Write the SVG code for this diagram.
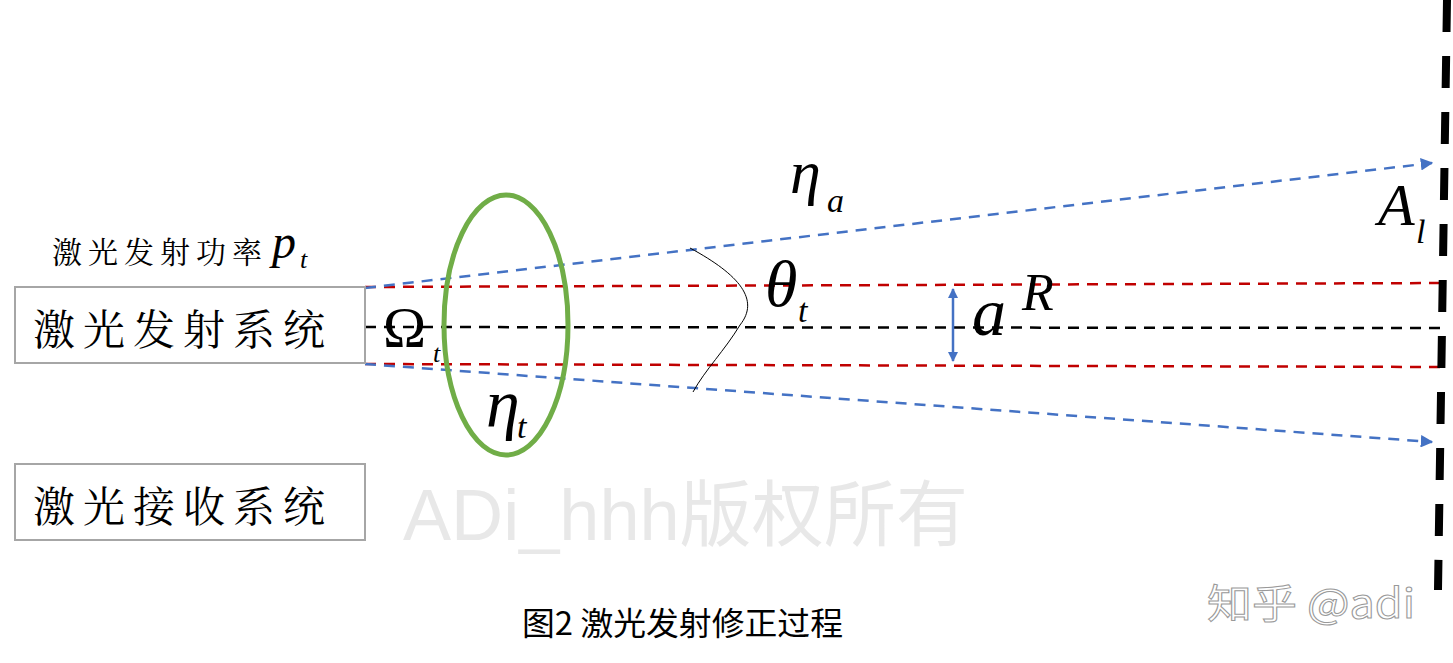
<svg xmlns="http://www.w3.org/2000/svg" width="1453" height="663" viewBox="0 0 1453 663">
<style>
.box{fill:#fff;stroke:#a6a6a6;stroke-width:2}
.cn{font-family:"Noto Serif CJK SC","Noto Sans CJK SC",serif;fill:#000}
.m{font-family:"Liberation Serif","Times New Roman",serif;font-style:italic;fill:#000}
.red{stroke:#c00000;stroke-width:2.5;stroke-dasharray:11 8;fill:none}
.blk{stroke:#000;stroke-width:2.5;stroke-dasharray:11 8;fill:none}
.blue{stroke:#4472c4;stroke-width:2.5;stroke-dasharray:11 8;fill:none}
</style>
<defs>
<marker id="ah" viewBox="0 0 10 10" refX="9" refY="5" markerWidth="5" markerHeight="5" orient="auto"><path d="M0,0L10,5L0,10z" fill="#4472c4"/></marker>
<marker id="ah2" viewBox="0 0 10 10" refX="9" refY="5" markerWidth="4" markerHeight="4" orient="auto-start-reverse"><path d="M0,0L10,5L0,10z" fill="#4472c4"/></marker>
</defs>
<rect width="1453" height="663" fill="#fff"/>
<text x="403" y="540" font-family="'Liberation Sans','Noto Sans CJK SC',sans-serif" font-size="72" fill="#e8e8e8" textLength="565" lengthAdjust="spacingAndGlyphs">ADi_hhh版权所有</text>
<g id="connectors">
<line class="red" x1="365" y1="287" x2="1445" y2="283"/>
<line class="red" x1="365" y1="364" x2="1445" y2="367"/>
<line class="blk" x1="365" y1="327" x2="1445" y2="328"/>
<line class="blue" x1="365" y1="288" x2="1432" y2="163" marker-end="url(#ah)"/>
<line class="blue" x1="365" y1="364" x2="1432" y2="442" marker-end="url(#ah)"/>
<line x1="953" y1="289" x2="953" y2="361" stroke="#4472c4" stroke-width="2.5" marker-start="url(#ah2)" marker-end="url(#ah2)"/>
<path d="M690,248 C740,275 760,300 740,325 C725,350 705,370 693,392" fill="none" stroke="#000" stroke-width="1"/>
<line x1="1447" y1="0" x2="1438" y2="590" stroke="#000" stroke-width="8" stroke-dasharray="32 24"/>
</g>
<g id="tx">
<rect class="box" x="15" y="287" width="350" height="76"/>
<text class="cn" x="33" y="345" font-size="42" letter-spacing="8">激光发射系统</text>
</g>
<g id="rx">
<rect class="box" x="15" y="464" width="350" height="76"/>
<text class="cn" x="33" y="522" font-size="42" letter-spacing="8">激光接收系统</text>
</g>
<g id="lens">
<ellipse cx="506" cy="325" rx="62" ry="130" fill="none" stroke="#70ad47" stroke-width="5"/>
</g>
<g id="labels">
<text class="cn" x="52" y="263" font-size="30" letter-spacing="6">激光发射功率</text>
<text class="m" x="272" y="258" font-size="48">p</text>
<text class="m" x="300" y="268" font-size="26">t</text>
<text font-family="'Liberation Serif','Times New Roman',serif" x="383" y="347" font-size="58">Ω</text>
<text class="m" x="433" y="362" font-size="26">t</text>
<text class="m" x="486" y="427" font-size="68">η</text>
<text class="m" x="517" y="438" font-size="34">t</text>
<text class="m" x="790" y="193" font-size="62">η</text>
<text class="m" x="827" y="212" font-size="34">a</text>
<text class="m" x="765" y="306" font-size="66">θ</text>
<text class="m" x="798" y="322" font-size="34">t</text>
<text class="m" x="972" y="335" font-size="68">a</text>
<text class="m" x="1022" y="310" font-size="52">R</text>
<text class="m" x="1378" y="225" font-size="60">A</text>
<text class="m" x="1416" y="243" font-size="34">l</text>
</g>
<text x="1207" y="618" font-family="'Noto Sans CJK SC',sans-serif" font-size="40" fill="#fff" stroke="#999" stroke-width="1" textLength="208" lengthAdjust="spacingAndGlyphs">知乎 @adi</text>
<text x="522" y="635" font-family="'Noto Sans CJK SC',sans-serif" font-size="32" fill="#000" textLength="321" lengthAdjust="spacingAndGlyphs">图2 激光发射修正过程</text>
</svg>
